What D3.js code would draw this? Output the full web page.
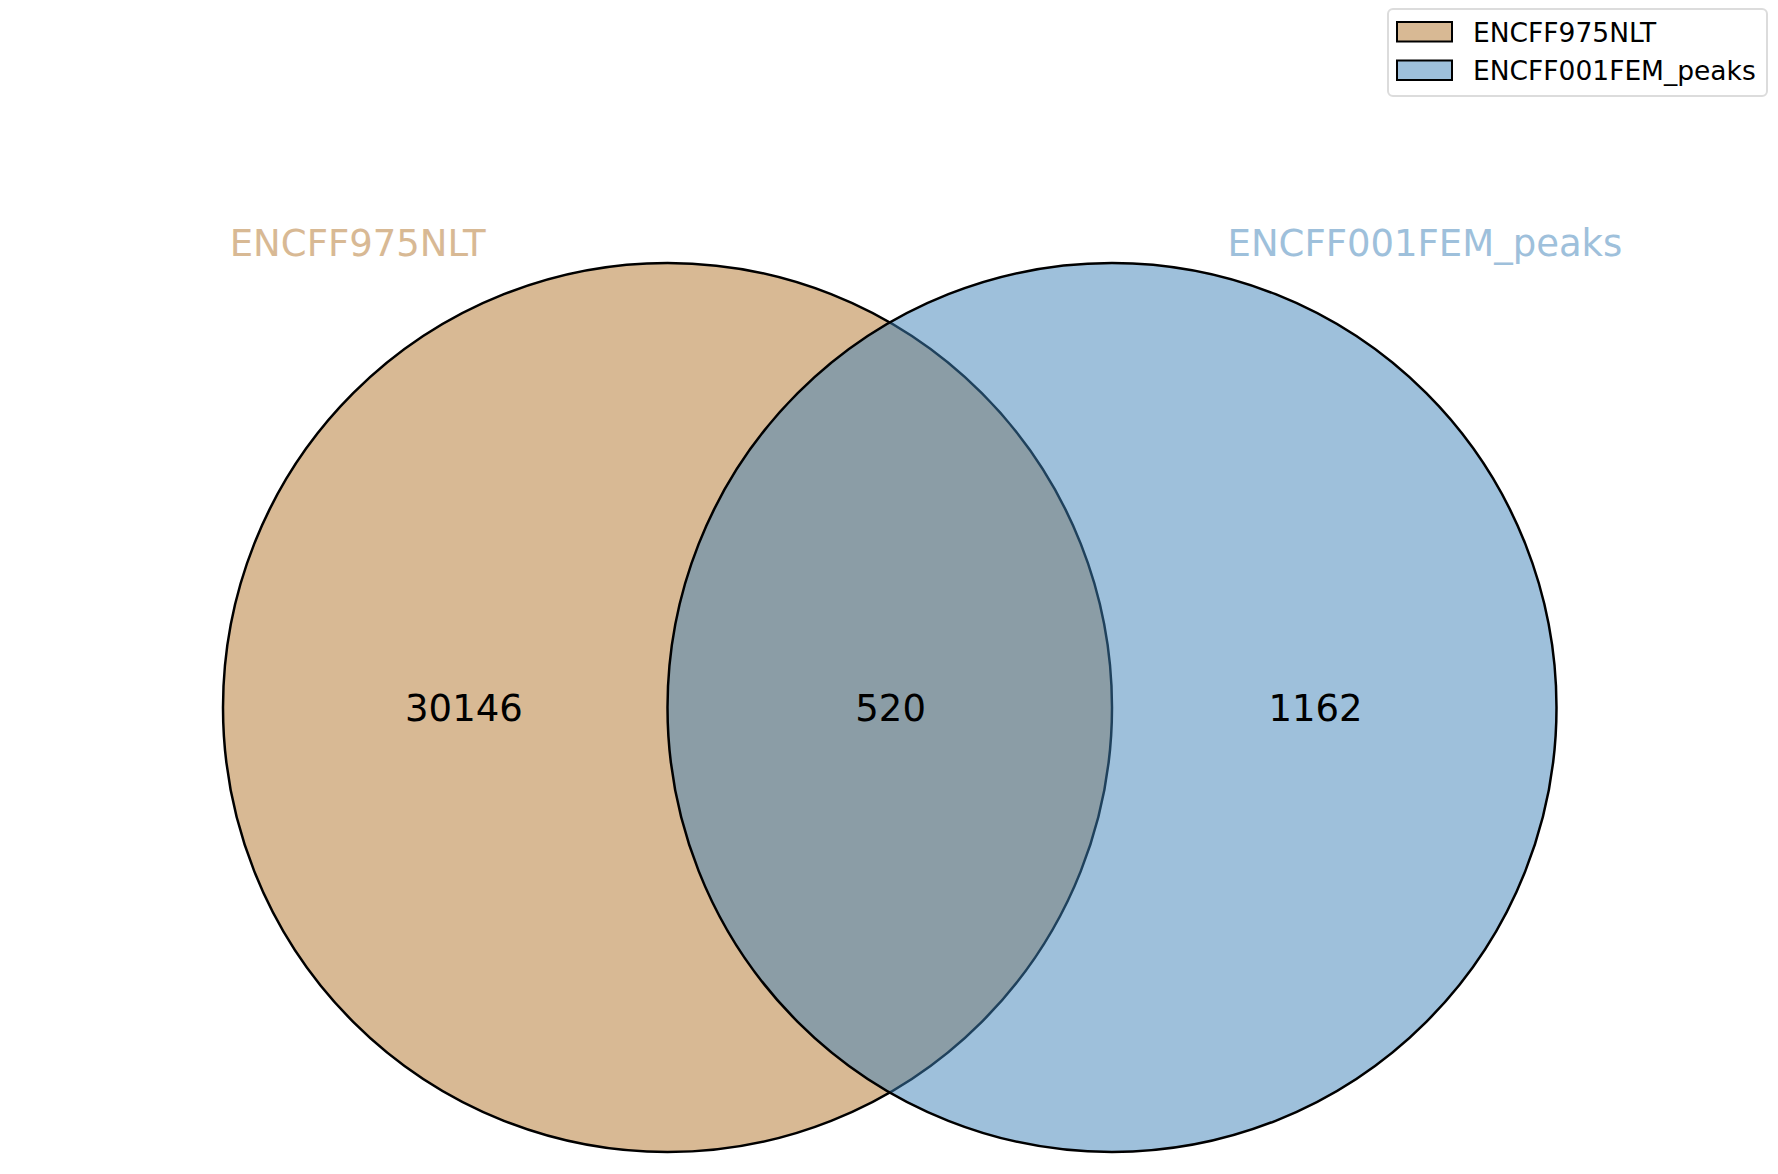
<!DOCTYPE html>
<html>
<head>
<meta charset="utf-8">
<script src="https://cdn.jsdelivr.net/npm/d3@7"></script>
<style>
  html, body { margin: 0; padding: 0; background: #ffffff; }
  svg { display: block; font-family: "DejaVu Sans", sans-serif; }
</style>
</head>
<body>
<div id="chart"></div>
<script>
// Set names, colours and subset counts (left only, both, right only)
const setNames = ['ENCFF975NLT', 'ENCFF001FEM_peaks'];
const setColors = ['#d8b994', '#3d81b7'];
const setAlpha = [1, 0.5];
const subsetLabels = ['10', '11', '01'];
const subsetCounts = [30146, 520, 1162];

// Figure size
const width = 1778;
const height = 1174;

const svg = d3.select('#chart')
    .append('svg')
    .attr('width', width)
    .attr('height', height)
    .attr('viewBox', [0, 0, width, height]);

// Venn layout in unit space: two equal circles of radius 1, centres 1 apart
const radius = 1;
const separation = 1;
const centers = [-separation / 2, separation / 2];

// Scales from unit space to pixels
const x = d3.scaleLinear().domain([-0.5, 0.5]).range([667.5, 1112]);
const y = d3.scaleLinear().domain([0, 1]).range([707.5, 1152]);
const r = v => x(v) - x(0);

// Circles
svg.append('g')
    .selectAll('circle')
    .data(setNames)
    .enter()
    .append('circle')
    .attr('cx', (d, i) => x(centers[i]))
    .attr('cy', y(0))
    .attr('r', r(radius))
    .attr('fill', (d, i) => setColors[i])
    .attr('fill-opacity', (d, i) => setAlpha[i])
    .attr('stroke', '#000')
    .attr('stroke-width', 2.5);

// Colour seen on screen for a set (blended over white)
const shown = i => {
    const c = d3.rgb(setColors[i]);
    const a = setAlpha[i];
    return d3.rgb(c.r * a + 255 * (1 - a), c.g * a + 255 * (1 - a), c.b * a + 255 * (1 - a)).formatHex();
};

// Set labels (baseline above the circles)
const setLabelPos = [[-1.197, -1.016], [1.204, -1.016]];
svg.append('g')
    .selectAll('text')
    .data(setNames)
    .enter()
    .append('text')
    .attr('x', (d, i) => x(setLabelPos[i][0]))
    .attr('y', (d, i) => y(setLabelPos[i][1]))
    .attr('text-anchor', 'middle')
    .attr('font-size', 37)
    .attr('fill', (d, i) => shown(i))
    .text(d => d);

// Subset counts
const subsetPos = { '10': -0.958, '11': 0.002, '01': 0.958 };
svg.append('g')
    .selectAll('text')
    .data(subsetCounts)
    .enter()
    .append('text')
    .attr('x', (d, i) => x(subsetPos[subsetLabels[i]]))
    .attr('y', y(0))
    .attr('dy', '0.36em')
    .attr('text-anchor', 'middle')
    .attr('font-size', 37)
    .attr('fill', '#000')
    .text(d => d);

// Legend
const legend = svg.append('g').attr('transform', 'translate(1388,9)');
legend.append('rect')
    .attr('width', 379)
    .attr('height', 87)
    .attr('rx', 5)
    .attr('fill', '#fff')
    .attr('stroke', '#dcdcdc')
    .attr('stroke-width', 2);

const rows = legend.selectAll('g.row')
    .data(setNames)
    .enter()
    .append('g')
    .attr('class', 'row')
    .attr('transform', (d, i) => `translate(0,${13 + i * 38.5})`);

rows.append('rect')
    .attr('x', 9)
    .attr('width', 55)
    .attr('height', 19.5)
    .attr('fill', (d, i) => shown(i))
    .attr('stroke', '#000')
    .attr('stroke-width', 2);

rows.append('text')
    .attr('x', 85)
    .attr('y', 19.5)
    .attr('font-size', 26.5)
    .attr('fill', '#000')
    .text(d => d);
</script>
</body>
</html>
